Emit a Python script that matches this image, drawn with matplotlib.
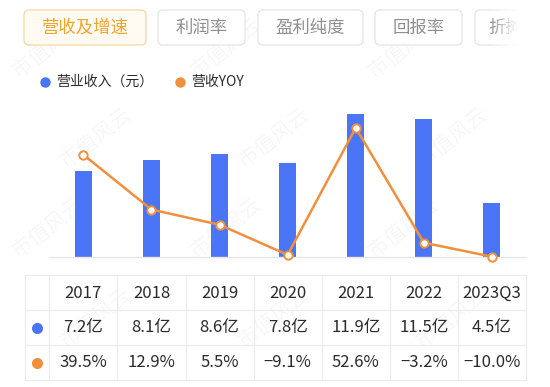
import numpy as np
import matplotlib
matplotlib.use("Agg")
import matplotlib.pyplot as plt
from matplotlib.patches import FancyBboxPatch

plt.rcParams['font.family'] = ['Noto Sans CJK SC', 'DejaVu Sans']

# data
years = ["2017", "2018", "2019", "2020", "2021", "2022", "2023Q3"]
revenue = [7.2, 8.1, 8.6, 7.8, 11.9, 11.5, 4.5]          # 亿元
yoy = [39.5, 12.9, 5.5, -9.1, 52.6, -3.2, -10.0]          # %
tabs = ["营收及增速", "利润率", "盈利纯度", "回报率", "折摊"]
legend_labels = ["营业收入（元）", "营收YOY"]

BLUE = "#4a75f7"
ORANGE = "#f0903c"
GRID = "#ececec"
TXT = "#2b2b2b"

W, H = 550, 387
fig = plt.figure(figsize=(W / 100, H / 100), dpi=100)


def fx(px):
    return px / W


def fy(py):
    return 1 - py / H


# full-figure overlay in pixel coords (top-left origin)
ov = fig.add_axes([0, 0, 1, 1], zorder=1)
ov.set_xlim(0, W)
ov.set_ylim(H, 0)
ov.axis("off")
ov.patch.set_alpha(0)

# watermark
wm_rows = [(82, [22, 200, 378]), (172, [70, 248, 426]), (262, [22, 200, 378]), (352, [70, 248, 426])]
for y0, xs in wm_rows:
    for x0 in xs:
        ov.text(x0, y0, "市值风云", fontsize=15, color="#000000", alpha=0.035,
                rotation=38, rotation_mode="anchor", ha="left", va="bottom", zorder=0)

# tabs
tab_box = [(24, 146), (158, 245), (258, 363), (375, 462), (475, 560)]
for i, (name, (x0, x1)) in enumerate(zip(tabs, tab_box)):
    sel = i == 0
    box = FancyBboxPatch((x0, 10), x1 - x0, 35,
                         boxstyle="round,pad=0,rounding_size=5",
                         fc="#fffbf2" if sel else "white",
                         ec="#f3d8a2" if sel else "#e4e4e4", lw=0.9, zorder=2)
    ov.add_patch(box)
    if i < 4:
        ov.text((x0 + x1) / 2, 27.5, name, fontsize=12.5,
                color="#f0a52c" if sel else "#8f8f8f", ha="center", va="center", zorder=3)
    else:
        ov.text(x0 + 13, 27.5, name, fontsize=12.5,
                color="#8f8f8f", ha="left", va="center", zorder=3)

# fade on right edge of tab row
grad = np.zeros((1, 60, 4))
grad[..., :3] = 1.0
grad[0, :, 3] = np.clip(np.linspace(0.0, 2.2, 60), 0, 1)
ov.imshow(grad, aspect="auto", extent=[490, 550, 50, 5], zorder=4)
ov.set_xlim(0, W)
ov.set_ylim(H, 0)

# legend
ov.plot([44.6], [81.7], "o", ms=7.5, color=BLUE, mec="none")
ov.text(56, 81.7, legend_labels[0], fontsize=10, color=TXT, va="center")
ov.plot([179.6], [81.7], "o", ms=7.5, color=ORANGE, mec="none")
ov.text(191, 81.7, legend_labels[1], fontsize=10, color=TXT, va="center")

# main chart
x = np.arange(len(years))
ax = fig.add_axes([fx(49.3), fy(256.7), fx(526 - 49.3), (256.7 - 100) / H], zorder=3)
ax.patch.set_alpha(0)
ax.bar(x, revenue, width=0.25, color=BLUE, zorder=2)
ax.set_xlim(-0.5, 6.5)
ax.set_ylim(0, 156.7 / 11.97)
for s in ["top", "right", "left"]:
    ax.spines[s].set_visible(False)
ax.spines["bottom"].set_color("#e6e6e6")
ax.spines["bottom"].set_linewidth(1.0)
ax.set_xticks([])
ax.set_yticks([])

ax2 = ax.twinx()
ax2.plot(x, yoy, color=ORANGE, lw=1.8, marker="o", ms=6, mfc="white",
         mec=ORANGE, mew=1.4, zorder=4, clip_on=False)
ax2.set_ylim(-10, -10 + 156.7 / 2.06)
ax2.axis("off")

# table
ax_t = fig.add_axes([fx(25), fy(380), fx(526 - 25), (380 - 275) / H], zorder=3)
ax_t.patch.set_alpha(0)
left = -0.5 - (49.3 - 25) / 68.1
ax_t.set_xlim(left, 6.5)
ax_t.set_ylim(3, 0)
ax_t.axis("off")
for r in range(4):
    ax_t.plot([left, 6.5], [r, r], color=GRID, lw=0.9, clip_on=False)
for c in [left] + [k - 0.5 for k in range(len(years) + 1)]:
    ax_t.plot([c, c], [0, 3], color=GRID, lw=0.9, clip_on=False)

rev_labels = [f"{v:.1f}亿" for v in revenue]
yoy_labels = [f"{v:.1f}%".replace("-", "−") for v in yoy]
for i in range(len(years)):
    ax_t.text(x[i], 0.52, years[i], fontsize=12, color=TXT, ha="center", va="center")
    ax_t.text(x[i], 1.5, rev_labels[i], fontsize=12, color=TXT, ha="center", va="center")
    ax_t.text(x[i], 2.5, yoy_labels[i], fontsize=12, color=TXT, ha="center", va="center")

mid = (left - 0.5) / 2
ax_t.plot([mid], [1.5], "o", ms=8, color=BLUE, mec="none")
ax_t.plot([mid], [2.5], "o", ms=8, color=ORANGE, mec="none")

fig.savefig("out.png", dpi=100, facecolor="white")
